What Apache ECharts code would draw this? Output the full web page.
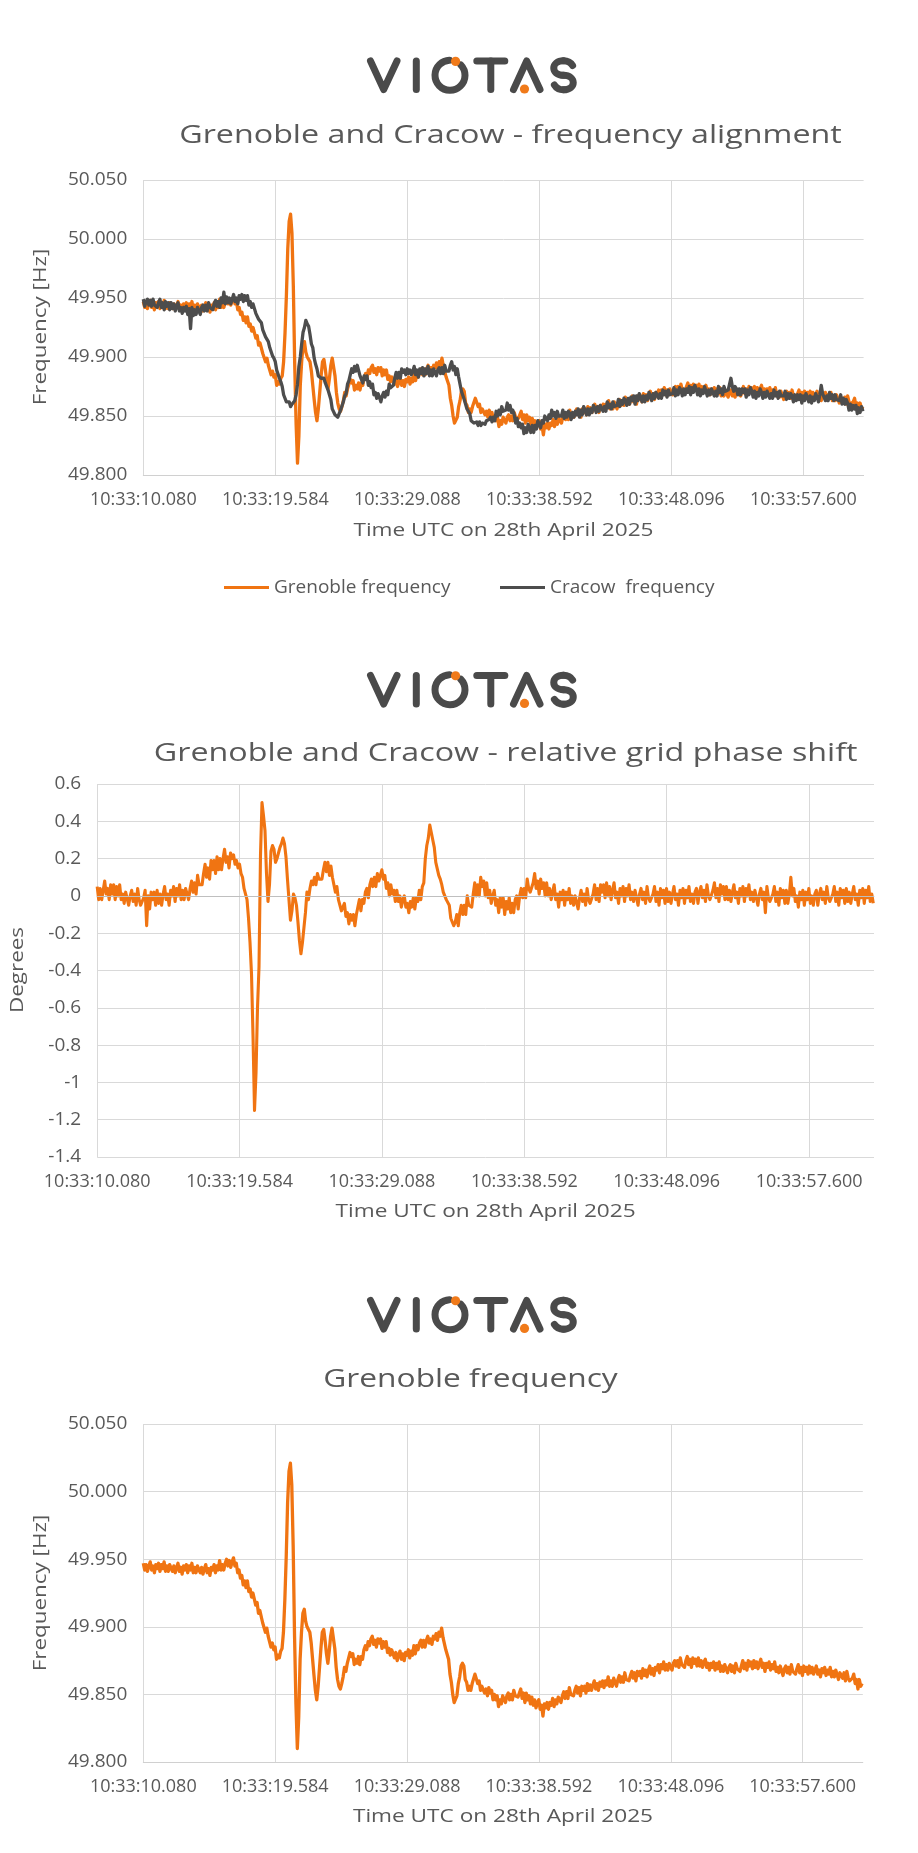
<!DOCTYPE html>
<html><head><meta charset="utf-8">
<script src="https://cdn.jsdelivr.net/npm/echarts@6/dist/echarts.min.js"></script>
<style>html,body{margin:0;padding:0;background:#fff}#c{width:918px;height:1853px}</style>
</head><body><div id="c"></div>
<script>
// ---- axis settings ----
const START_TIME = '10:33:10.080';
const STEP = 0.1;          // seconds between samples
const X_MAX = 51.85;       // seconds shown
const X_TICK = 9.504;      // seconds between time labels
const FREQ_MIN = 49.8, FREQ_MAX = 50.05, FREQ_TICK = 0.05;
const PHASE_MIN = -1.4, PHASE_MAX = 0.6, PHASE_TICK = 0.2;

// ---- series values (one sample every STEP seconds, one row = 1 s) ----
const grenoble = [
49.947,49.942,49.946,49.941,49.945,49.948,49.942,49.945,49.940,49.946,
49.943,49.947,49.941,49.946,49.943,49.948,49.941,49.945,49.941,49.946,
49.946,49.941,49.945,49.940,49.944,49.947,49.941,49.944,49.939,49.945,
49.942,49.946,49.940,49.945,49.942,49.947,49.940,49.944,49.940,49.945,
49.945,49.940,49.944,49.939,49.943,49.946,49.940,49.943,49.938,49.944,
49.942,49.946,49.940,49.945,49.942,49.949,49.942,49.946,49.942,49.947,
49.950,49.945,49.949,49.944,49.948,49.951,49.945,49.947,49.940,49.942,
49.936,49.938,49.931,49.934,49.929,49.934,49.926,49.928,49.922,49.925,
49.924,49.916,49.918,49.910,49.912,49.912,49.903,49.903,49.896,49.899,
49.893,49.894,49.885,49.888,49.883,49.885,49.876,49.879,49.877,49.882,
49.884,49.896,49.920,49.952,49.992,50.015,50.021,50.005,49.960,49.893,
49.843,49.810,49.833,49.876,49.896,49.910,49.913,49.904,49.900,49.898,
49.896,49.888,49.876,49.864,49.853,49.846,49.856,49.870,49.884,49.896,
49.898,49.890,49.880,49.873,49.882,49.893,49.899,49.898,49.884,49.870,
49.861,49.856,49.854,49.858,49.863,49.870,49.867,49.873,49.872,49.881,
49.878,49.880,49.872,49.876,49.873,49.878,49.872,49.878,49.876,49.883,
49.886,49.883,49.889,49.886,49.891,49.893,49.887,49.890,49.885,49.891,
49.888,49.891,49.884,49.889,49.885,49.889,49.881,49.884,49.879,49.883,
49.883,49.877,49.881,49.875,49.879,49.882,49.876,49.880,49.875,49.881,
49.879,49.883,49.877,49.882,49.879,49.886,49.880,49.886,49.883,49.888,
49.890,49.885,49.890,49.885,49.890,49.893,49.888,49.891,49.887,49.893,
49.891,49.895,49.890,49.896,49.893,49.899,49.892,49.893,49.883,49.882,
49.876,49.865,49.859,49.850,49.844,49.845,49.849,49.858,49.863,49.871,
49.873,49.871,49.861,49.859,49.853,49.856,49.853,49.858,49.858,49.865,
49.865,49.858,49.860,49.853,49.856,49.857,49.851,49.854,49.849,49.855,
49.851,49.853,49.846,49.850,49.846,49.849,49.841,49.846,49.843,49.849,
49.850,49.844,49.849,49.851,49.846,49.850,49.846,49.853,49.849,49.848,
49.848,49.851,49.854,49.847,49.851,49.844,49.851,49.846,49.849,49.843,
49.848,49.842,49.846,49.840,49.844,49.846,49.839,49.842,49.834,49.843,
49.840,49.844,49.839,49.844,49.842,49.847,49.841,49.846,49.843,49.848,
49.849,49.844,49.849,49.852,49.847,49.852,49.847,49.855,49.850,49.849,
49.849,49.853,49.856,49.851,49.855,49.849,49.856,49.853,49.856,49.851,
49.858,49.853,49.857,49.853,49.857,49.860,49.854,49.858,49.853,49.859,
49.856,49.860,49.855,49.860,49.857,49.863,49.856,49.860,49.856,49.862,
49.862,49.856,49.861,49.864,49.859,49.863,49.859,49.866,49.861,49.861,
49.860,49.864,49.867,49.862,49.866,49.860,49.867,49.864,49.867,49.862,
49.869,49.864,49.868,49.863,49.868,49.871,49.865,49.869,49.864,49.870,
49.868,49.872,49.866,49.872,49.869,49.874,49.868,49.872,49.868,49.873,
49.874,49.868,49.873,49.875,49.871,49.875,49.870,49.877,49.872,49.871,
49.870,49.875,49.878,49.872,49.876,49.870,49.877,49.873,49.876,49.871,
49.877,49.871,49.875,49.870,49.874,49.876,49.870,49.873,49.868,49.873,
49.870,49.874,49.868,49.873,49.869,49.874,49.867,49.871,49.867,49.872,
49.872,49.866,49.870,49.872,49.867,49.871,49.866,49.873,49.869,49.868,
49.867,49.871,49.875,49.869,49.873,49.868,49.875,49.871,49.874,49.869,
49.875,49.870,49.874,49.869,49.873,49.876,49.870,49.873,49.867,49.873,
49.870,49.874,49.868,49.872,49.869,49.874,49.867,49.870,49.866,49.871,
49.871,49.864,49.869,49.871,49.866,49.870,49.865,49.872,49.867,49.866,
49.865,49.869,49.872,49.866,49.870,49.864,49.871,49.867,49.870,49.865,
49.871,49.866,49.870,49.865,49.868,49.871,49.865,49.868,49.863,49.869,
49.866,49.870,49.864,49.868,49.865,49.870,49.863,49.867,49.863,49.868,
49.867,49.861,49.866,49.867,49.862,49.866,49.860,49.867,49.862,49.860,
49.859,49.862,49.865,49.858,49.861,49.854,49.861,49.856,49.858
];
const cracow = [
49.949,49.943,49.947,49.949,49.944,49.948,49.943,49.949,49.944,49.943,
49.942,49.946,49.949,49.942,49.946,49.940,49.947,49.943,49.946,49.940,
49.946,49.941,49.945,49.939,49.943,49.946,49.939,49.942,49.937,49.942,
49.939,49.943,49.936,49.941,49.924,49.942,49.935,49.940,49.936,49.942,
49.942,49.936,49.942,49.944,49.939,49.944,49.939,49.946,49.942,49.941,
49.940,49.945,49.948,49.943,49.947,49.942,49.950,49.946,49.955,49.945,
49.951,49.946,49.950,49.945,49.949,49.953,49.947,49.950,49.945,49.952,
49.949,49.953,49.947,49.952,49.948,49.952,49.944,49.947,49.942,49.945,
49.941,49.937,49.938,49.932,49.931,49.929,49.923,49.922,49.917,49.916,
49.913,49.908,49.908,49.901,49.899,49.896,49.889,49.888,49.882,49.879,
49.875,49.868,49.868,49.862,49.862,49.862,49.858,49.860,49.859,49.863,
49.868,49.877,49.892,49.900,49.911,49.921,49.925,49.931,49.928,49.926,
49.919,49.911,49.908,49.899,49.894,49.890,49.884,49.885,49.882,49.883,
49.882,49.878,49.878,49.872,49.868,49.864,49.856,49.855,49.851,49.850,
49.849,49.849,49.855,49.856,49.862,49.867,49.869,49.877,49.880,49.885,
49.890,49.887,49.892,49.888,49.893,49.894,49.884,49.884,49.878,49.884,
49.881,49.884,49.876,49.879,49.874,49.877,49.868,49.870,49.865,49.869,
49.868,49.862,49.867,49.870,49.866,49.871,49.868,49.877,49.874,49.875,
49.876,49.882,49.887,49.882,49.887,49.882,49.890,49.887,49.889,49.885,
49.890,49.886,49.889,49.885,49.888,49.892,49.885,49.889,49.883,49.890,
49.886,49.891,49.884,49.890,49.886,49.892,49.884,49.889,49.884,49.890,
49.890,49.884,49.889,49.891,49.886,49.891,49.886,49.893,49.888,49.888,
49.888,49.893,49.896,49.889,49.892,49.885,49.890,49.883,49.882,49.871,
49.870,49.864,49.863,49.856,49.854,49.852,49.846,49.847,49.844,49.845,
49.845,49.842,49.845,49.842,49.844,49.845,49.843,49.846,49.845,49.847,
49.849,49.845,49.849,49.846,49.854,49.850,49.855,49.851,49.858,49.854,
49.854,49.855,49.861,49.855,49.859,49.853,49.855,49.851,49.844,49.848,
49.841,49.844,49.840,49.843,49.835,49.840,49.836,49.843,49.840,49.836,
49.842,49.836,49.842,49.839,49.846,49.843,49.840,49.846,49.844,49.850,
49.850,49.846,49.851,49.848,49.855,49.850,49.853,49.848,49.854,49.850,
49.849,49.850,49.855,49.848,49.853,49.849,49.854,49.852,49.847,49.853,
49.849,49.854,49.851,49.856,49.849,49.855,49.851,49.858,49.855,49.851,
49.856,49.851,49.856,49.853,49.859,49.857,49.853,49.858,49.854,49.859,
49.859,49.854,49.858,49.854,49.862,49.857,49.860,49.856,49.862,49.858,
49.858,49.859,49.864,49.858,49.863,49.860,49.865,49.863,49.859,49.865,
49.860,49.866,49.863,49.867,49.860,49.867,49.863,49.869,49.866,49.862,
49.867,49.862,49.867,49.864,49.870,49.867,49.863,49.869,49.865,49.870,
49.869,49.865,49.869,49.865,49.872,49.868,49.871,49.866,49.872,49.868,
49.868,49.869,49.874,49.867,49.872,49.868,49.874,49.872,49.867,49.873,
49.868,49.873,49.870,49.875,49.868,49.874,49.870,49.876,49.873,49.868,
49.873,49.867,49.872,49.869,49.875,49.871,49.867,49.872,49.868,49.873,
49.872,49.867,49.871,49.867,49.875,49.870,49.873,49.868,49.875,49.871,
49.870,49.872,49.877,49.882,49.875,49.871,49.875,49.873,49.868,49.873,
49.868,49.873,49.870,49.873,49.866,49.872,49.868,49.874,49.871,49.866,
49.871,49.865,49.870,49.867,49.873,49.870,49.865,49.870,49.866,49.871,
49.870,49.865,49.869,49.865,49.872,49.867,49.870,49.865,49.871,49.867,
49.866,49.867,49.871,49.864,49.869,49.865,49.869,49.867,49.862,49.868,
49.863,49.868,49.864,49.868,49.861,49.867,49.863,49.869,49.866,49.862,
49.867,49.861,49.866,49.863,49.869,49.866,49.862,49.868,49.876,49.869,
49.868,49.863,49.867,49.863,49.870,49.865,49.868,49.863,49.868,49.864,
49.863,49.863,49.868,49.860,49.865,49.860,49.864,49.861,49.855,49.860,
49.855,49.859,49.856,49.859,49.852,49.857,49.853,49.858,49.854
];
const phaseShift = [
0.05,-0.02,0.04,-0.02,0.03,0.08,0.01,0.04,-0.02,0.06,
0.01,0.06,-0.02,0.05,0.00,0.06,-0.02,0.01,-0.04,0.02,
0.03,-0.05,0.00,0.03,-0.03,0.01,-0.05,0.04,-0.02,-0.05,
-0.06,-0.01,0.03,-0.16,0.00,-0.07,0.02,-0.02,0.02,-0.05,
0.03,-0.04,0.01,-0.05,0.01,0.05,-0.02,0.01,-0.05,0.03,
0.00,0.05,-0.03,0.04,0.00,0.06,-0.02,0.03,-0.02,0.04,
0.05,-0.02,0.04,0.08,0.02,0.07,0.01,0.11,0.06,0.05,
0.06,0.12,0.17,0.10,0.15,0.09,0.19,0.14,0.19,0.12,
0.21,0.14,0.20,0.14,0.20,0.25,0.18,0.21,0.15,0.23,
0.20,0.22,0.17,0.19,0.15,0.17,0.12,0.10,0.04,0.04,
-0.02,-0.12,-0.25,-0.42,-0.75,-1.15,-0.95,-0.60,-0.38,0.22,
0.50,0.43,0.35,0.12,-0.03,0.06,0.24,0.27,0.25,0.18,
0.20,0.23,0.26,0.28,0.31,0.28,0.21,0.09,-0.02,-0.13,
-0.08,0.01,-0.01,-0.05,-0.14,-0.24,-0.31,-0.25,-0.17,-0.09,
0.02,-0.02,0.04,0.08,0.06,0.10,0.06,0.12,0.09,0.09,
0.09,0.14,0.18,0.13,0.18,0.11,0.16,0.10,0.10,0.02,
0.05,-0.02,-0.01,-0.08,-0.06,-0.04,-0.11,-0.09,-0.15,-0.10,
-0.13,-0.10,-0.16,-0.10,-0.10,-0.02,-0.08,-0.02,-0.04,0.02,
0.04,-0.01,0.06,0.09,0.05,0.10,0.05,0.12,0.08,0.07,
0.14,0.09,0.11,0.04,0.07,0.00,0.06,0.01,0.03,-0.03,
0.03,-0.03,0.00,-0.06,-0.02,0.00,-0.06,-0.04,-0.09,-0.03,
-0.06,-0.01,-0.07,-0.01,-0.03,0.03,-0.02,0.05,0.07,0.20,
0.27,0.31,0.38,0.34,0.30,0.26,0.18,0.17,0.11,0.09,
0.06,0.02,0.03,-0.02,-0.03,-0.05,-0.12,-0.12,-0.16,-0.14,
-0.10,-0.16,-0.09,-0.05,-0.10,-0.05,-0.10,0.00,-0.05,-0.06,
-0.06,0.01,0.07,0.00,0.06,0.00,0.10,0.05,0.08,0.00,
0.07,-0.01,0.03,-0.04,0.00,0.03,-0.05,-0.02,-0.09,-0.01,
-0.06,-0.01,-0.10,-0.03,-0.07,-0.01,-0.09,-0.04,-0.09,-0.02,
0.00,-0.07,0.00,0.04,-0.01,0.04,-0.01,0.09,0.04,0.02,
0.02,0.07,0.12,0.04,0.08,0.01,0.09,0.04,0.07,0.00,
0.07,0.00,0.04,-0.02,0.02,0.06,-0.02,0.01,-0.06,0.02,
-0.02,0.03,-0.05,0.02,-0.02,0.04,-0.04,0.00,-0.05,0.00,
0.01,-0.07,-0.01,0.03,-0.03,0.01,-0.05,0.04,-0.02,-0.04,
-0.04,0.01,0.06,-0.02,0.04,-0.03,0.06,0.02,0.06,-0.01,
0.07,0.00,0.05,-0.02,0.03,0.07,-0.01,0.02,-0.04,0.04,
0.00,0.05,-0.03,0.04,0.00,0.06,-0.02,0.02,-0.03,0.03,
0.03,-0.05,0.01,0.04,-0.02,0.02,-0.04,0.05,-0.01,-0.03,
-0.04,0.01,0.05,-0.03,0.02,-0.05,0.04,-0.01,0.03,-0.04,
0.04,-0.03,0.02,-0.04,0.01,0.05,-0.02,0.01,-0.05,0.03,
-0.01,0.04,-0.04,0.03,-0.01,0.05,-0.03,0.01,-0.04,0.02,
0.04,-0.04,0.02,0.05,-0.01,0.03,-0.03,0.06,0.00,-0.02,
-0.02,0.03,0.07,-0.01,0.04,-0.03,0.06,0.01,0.05,-0.02,
0.05,-0.02,0.03,-0.03,0.02,0.06,-0.01,0.02,-0.04,0.04,
0.00,0.05,-0.03,0.04,0.00,0.06,-0.02,0.02,-0.03,0.03,
0.03,-0.05,0.01,0.04,-0.02,0.02,-0.09,0.05,-0.01,-0.03,
-0.04,0.01,0.05,-0.03,0.02,-0.05,0.04,-0.01,0.03,-0.04,
0.03,-0.04,0.01,0.10,0.00,0.04,-0.03,0.00,-0.06,0.02,
-0.02,0.03,-0.05,0.02,-0.02,0.04,-0.04,0.00,-0.05,0.01,
0.03,-0.05,0.01,0.04,-0.02,0.02,-0.04,0.05,-0.01,-0.03,
-0.04,0.01,0.05,-0.03,0.02,-0.05,0.04,-0.01,0.03,-0.04,
0.04,-0.03,0.02,-0.04,0.01,0.05,-0.02,0.01,-0.05,0.03,
-0.01,0.04,-0.04,0.03,-0.01,0.05,-0.03,0.01,-0.04
];

// ---- texts ----
const TITLES = ['Grenoble and Cracow - frequency alignment', 'Grenoble and Cracow - relative grid phase shift', 'Grenoble frequency'];
const X_NAME = 'Time UTC on 28th April 2025';
const FREQ_NAME = 'Frequency [Hz]';
const PHASE_NAME = 'Degrees';
const NAME_GRENOBLE = 'Grenoble frequency';
const NAME_CRACOW = 'Cracow  frequency';
const NAME_PHASE = 'Relative phase shift';

// ---- styles ----
const FONT = "'Open Sans', 'Noto Sans', sans-serif";
const TXT = '#595959';
const GRID = '#d9d9d9';
const ORANGE = '#F07412';
const DARK = '#4D4D4D';

function fmtTime(t) {
  const p = START_TIME.split(':');
  let ms = Math.round((+p[0] * 3600 + +p[1] * 60 + parseFloat(p[2]) + t) * 1000);
  const h = Math.floor(ms / 3600000); ms -= h * 3600000;
  const m = Math.floor(ms / 60000); ms -= m * 60000;
  const s = Math.floor(ms / 1000); ms -= s * 1000;
  return h + ':' + String(m).padStart(2, '0') + ':' + String(s).padStart(2, '0') + '.' + String(ms).padStart(3, '0');
}
const pairs = arr => arr.map((v, i) => [Math.round(i * STEP * 1000) / 1000, v]);

function xAxis(gi) {
  return {
    type: 'value', gridIndex: gi, min: 0, max: X_MAX, interval: X_TICK,
    axisLine: { show: true, lineStyle: { color: '#d0d0d0', width: 1 } },
    axisTick: { show: false },
    axisLabel: { formatter: fmtTime, color: TXT, fontSize: 18, fontFamily: FONT, margin: 16, showMaxLabel: false, showMinLabel: true },
    splitLine: { show: true, showMaxLine: false, lineStyle: { color: GRID, width: 1 } }
  };
}
function yAxis(gi, min, max, interval, fmt) {
  return {
    type: 'value', gridIndex: gi, min, max, interval,
    axisLine: { show: false }, axisTick: { show: false },
    axisLabel: { formatter: fmt, color: TXT, fontSize: 19, fontFamily: FONT, margin: 16 },
    splitLine: { show: true, lineStyle: { color: GRID, width: 1 } }
  };
}
function text(str, x, y, size, stretch, rot) {
  return {
    type: 'text', x, y, rotation: rot || 0, scaleX: stretch, z: 50, silent: true,
    style: { text: str, fill: TXT, font: size + 'px ' + FONT, textAlign: 'center', textVerticalAlign: 'middle' }
  };
}
function logo(dy) {
  const s = { stroke: '#4a4a4a', lineWidth: 7, lineCap: 'round', lineJoin: 'round', fill: null };
  const dot = '#F07A1A';
  const cx = 450, cy = 75.3 + dy, r = 15, a = -1.19;
  const bz = (x1, y1, c1x, c1y, c2x, c2y, x2, y2) => ({ type: 'bezierCurve', silent: true, style: s,
    shape: { x1, y1: y1 + dy, cpx1: c1x, cpy1: c1y + dy, cpx2: c2x, cpy2: c2y + dy, x2, y2: y2 + dy } });
  return [
    { type: 'polyline', shape: { points: [[370.5, 61 + dy], [383.7, 89.6 + dy], [397, 61 + dy]] }, style: s, silent: true },
    { type: 'line', shape: { x1: 416.3, y1: 61 + dy, x2: 416.3, y2: 89.6 + dy }, style: s, silent: true },
    { type: 'arc', shape: { cx, cy, r, startAngle: a + 0.42, endAngle: a - 0.42 + Math.PI * 2, clockwise: true }, style: s, silent: true },
    { type: 'circle', shape: { cx: cx + r * Math.cos(a), cy: cy + r * Math.sin(a), r: 4.6 }, style: { fill: dot }, silent: true },
    { type: 'line', shape: { x1: 476.8, y1: 61 + dy, x2: 504.8, y2: 61 + dy }, style: s, silent: true },
    { type: 'line', shape: { x1: 490.8, y1: 61 + dy, x2: 490.8, y2: 89.6 + dy }, style: s, silent: true },
    { type: 'polyline', shape: { points: [[513.5, 89.6 + dy], [526.7, 61 + dy], [540, 89.6 + dy]] }, style: s, silent: true },
    { type: 'circle', shape: { cx: 524.5, cy: 89 + dy, r: 4.6 }, style: { fill: dot }, silent: true },
    bz(572.6, 65.6, 570.5, 62, 567.5, 60.8, 563.5, 60.8),
    bz(563.5, 60.8, 550.5, 60.8, 550.5, 75.3, 563.5, 75.3),
    bz(563.5, 75.3, 576.5, 75.3, 576.5, 89.8, 563.5, 89.8),
    bz(563.5, 89.8, 559.5, 89.8, 556.5, 88.5, 554.4, 85)
  ];
}

const chart = echarts.init(document.getElementById('c'), null, { renderer: 'canvas', width: 918, height: 1853 });
const lineSeries = (name, data, color, xi, yi, width, extra) => Object.assign({
  type: 'line', name, data: pairs(data), xAxisIndex: xi, yAxisIndex: yi,
  showSymbol: false, symbol: 'none', sampling: null, lineStyle: { color, width, join: 'round' }, itemStyle: { color },
  animation: false, silent: true, clip: true
}, extra || {});

const legendBase = { orient: 'horizontal', icon: 'rect', itemWidth: 45, itemHeight: 3, itemGap: 0, padding: 0, top: 578,
  textStyle: { color: TXT, fontSize: 19, fontFamily: FONT }, selectedMode: false };

chart.setOption({
  animation: false,
  backgroundColor: '#ffffff',
  grid: [
    { left: 143.3, top: 180, width: 720.3, height: 295 },
    { left: 97.2, top: 784, width: 776.8, height: 373 },
    { left: 143.3, top: 1424, width: 719.5, height: 338 }
  ],
  xAxis: [xAxis(0), xAxis(1), xAxis(2)],
  yAxis: [
    yAxis(0, FREQ_MIN, FREQ_MAX, FREQ_TICK, v => v.toFixed(3)),
    yAxis(1, PHASE_MIN, PHASE_MAX, PHASE_TICK, v => String(Math.round(v * 10) / 10)),
    yAxis(2, FREQ_MIN, FREQ_MAX, FREQ_TICK, v => v.toFixed(3))
  ],
  legend: [
    Object.assign({ left: 224, data: [NAME_GRENOBLE] }, legendBase),
    Object.assign({ left: 500, data: [NAME_CRACOW] }, legendBase)
  ],
  series: [
    lineSeries(NAME_GRENOBLE, grenoble, ORANGE, 0, 0, 3.3),
    lineSeries(NAME_CRACOW, cracow, DARK, 0, 0, 3.3),
    lineSeries(NAME_PHASE, phaseShift, ORANGE, 1, 1, 3.1, {
      markLine: { silent: true, symbol: 'none', label: { show: false }, animation: false,
        lineStyle: { color: '#bfbfbf', type: 'solid', width: 1 }, data: [{ yAxis: 0 }] }
    }),
    lineSeries(NAME_GRENOBLE, grenoble, ORANGE, 2, 2, 3.3)
  ],
  graphic: { elements: [].concat(
    logo(0), logo(614.4), logo(1239.4),
    [
      text(TITLES[0], 510.5, 136, 26, 1.24),
      text(TITLES[1], 505.7, 754, 26, 1.24),
      text(TITLES[2], 470.5, 1380, 26, 1.22),
      text(X_NAME, 503.5, 531, 19, 1.19),
      text(X_NAME, 485.6, 1212, 19, 1.19),
      text(X_NAME, 503, 1817, 19, 1.19),
      text(FREQ_NAME, 41, 327, 19, 1.18, Math.PI / 2),
      text(PHASE_NAME, 17.5, 970, 19, 1.18, Math.PI / 2),
      text(FREQ_NAME, 41, 1593, 19, 1.18, Math.PI / 2)
    ]) }
});
</script>
</body></html>
